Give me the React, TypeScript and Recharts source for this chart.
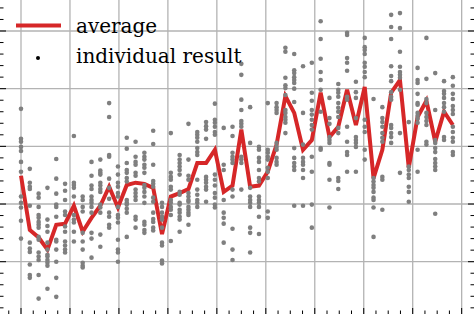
import React from 'react';
import { ComposedChart, Line, Scatter, XAxis, YAxis, CartesianGrid, Legend } from 'recharts';

// mean of the individual results per step
const averageValues = [
  14.9, 5.5, 4.2, 2.1, 6.4, 6.6, 9.7, 5.2, 7.6, 9.7,
  13.0, 9.4, 13.3, 13.7, 13.5, 12.8, 4.8, 11.3, 11.9, 12.6,
  17.1, 17.1, 19.4, 12.1, 13.2, 22.9, 13.0, 13.2, 15.6, 20.3,
  28.7, 25.8, 19.4, 21.1, 29.3, 21.6, 23.4, 29.8, 23.7, 30.3,
  14.5, 19.4, 29.3, 31.5, 16.3, 25.1, 27.9, 20.8, 26.0, 23.7,
];

// individual results, one list per step
const individualValues: number[][] = [
  [26.5, 21.3, 20.8, 19.9, 19.2, 17.3, 15.6, 11.3, 10.2, 9.4, 7.1, 4.0],
  [16.1, 13.7, 13.0, 12.6, 9.7, 3.3, 2.3, 1.7, -0.5, -2.3, -2.8],
  [11.8, 11.1, 9.5, 8.1, 7.6, 6.9, 6.4, 5.9, 4.3, 3.8, 1.6, 0.9, 0.3, -2.3, -6.4],
  [12.8, 7.3, 6.2, 5.2, 3.3, 2.1, 1.2, 0.9, 0.3, -0.2, -0.7, -4.7],
  [17.8, 14.4, 11.8, 9.9, 9.5, 7.8, 3.8, 3.5, 2.1, 0, -2.8, -6.1],
  [13.5, 12.3, 10.7, 8.7, 8.1, 6.1, 5.2, 3.5, 2.8, 2.1, 1.6],
  [21.8, 13.7, 13.3, 12.8, 11.3, 8.1, 7.3, 6.8, 5.2, 3.5],
  [11.3, 10.7, 9.5, 8.7, 5.0, 3.5, 2.1, -0.2, -0.7, -1.0],
  [17.3, 14.9, 13.2, 12.6, 11.3, 10.7, 10.2, 9.5, 8.5, 5.0, 4.0, 0.7],
  [17.7, 15.8, 15.4, 15.1, 13.7, 13.2, 12.6, 12.1, 9.9, 9.4, 8.5, 4.7, 2.6],
  [27.5, 25.1, 18.5, 18.2, 14.4, 12.8, 10.9, 8.5, 7.8, 6.4, 5.9],
  [16.5, 15.1, 13.7, 13.0, 11.9, 11.3, 9.5, 8.1, 7.6, 6.8, 3.8, 2.1, 1.6, 0],
  [21.5, 19.6, 17.1, 15.9, 15.4, 14.5, 13.9, 10.7, 10.2, 9.9, 9.2, 8.5, 4.3],
  [20.8, 18.2, 17.3, 16.8, 15.4, 14.9, 12.5, 11.9, 11.3, 10.7, 7.8, 7.3, 5.9],
  [18.9, 18.2, 17.7, 16.8, 16.3, 15.4, 13.3, 12.8, 12.1, 11.3, 10.2, 6.9, 6.4, 5.5, 5.0],
  [22.7, 20.4, 16.8, 14.0, 13.5, 13.0, 11.1, 10.4, 8.5, 7.4, 6.9, 5.9, 5.4],
  [10.2, 9.5, 8.5, 7.8, 7.3, 5.9, 3.3, 2.8, 0.2, -0.3],
  [22.3, 15.4, 14.7, 14.2, 13.0, 12.5, 10.7, 10.2, 9.5, 9.0, 8.1, 3.6],
  [18.5, 17.7, 17.1, 16.5, 15.9, 15.1, 12.1, 11.6, 10.2, 9.9, 9.0, 8.5, 7.8, 7.3, 5.2],
  [23.9, 17.7, 14.9, 14.2, 11.9, 11.3, 10.7, 10.4, 9.5, 9.0, 8.5, 8.1, 6.4],
  [22.5, 22.0, 21.5, 20.8, 19.7, 19.0, 18.5, 14.2, 12.5, 11.6, 10.7, 10.2, 9.5],
  [24.2, 23.5, 22.9, 21.3, 14.7, 14.2, 13.7, 13.0, 12.5, 10.4],
  [27.4, 24.6, 24.1, 23.4, 22.5, 22.0, 15.1, 14.2, 13.2, 11.9, 11.1, 9.9, 9.4],
  [23.2, 16.8, 15.9, 10.7, 8.5, 7.6, 6.6, 3.3],
  [23.4, 21.8, 18.9, 18.2, 17.7, 17.1, 12.5, 11.3, 5.7, 2.1, 0.3],
  [34.3, 32.4, 28.1, 26.3, 24.4, 23.9, 23.4, 18.2, 17.7, 17.1, 12.5],
  [26.8, 20.6, 12.8, 11.3, 10.7, 10.2, 9.5, 5.9, 5.0, 1.6],
  [19.9, 19.4, 18.0, 17.3, 15.9, 14.5, 13.9, 11.3, 10.7, 10.2, 9.5, 7.8, 4.8],
  [27.5, 19.4, 18.9, 18.2, 17.7, 16.3, 15.6, 14.5, 8.7, 7.6],
  [27.5, 26.8, 26.3, 25.8, 20.6, 19.9, 19.4, 18.0, 17.3, 16.8],
  [37.1, 36.4, 31.9, 30.6, 30.1, 28.9, 26.3, 25.8, 25.1, 24.6, 24.1, 22.3],
  [36.0, 33.2, 32.7, 32.0, 31.5, 31.0, 30.0, 27.7, 19.7, 18.0, 17.1, 16.5, 15.9, 9.7],
  [33.9, 25.8, 20.3, 18.0, 17.3, 16.8, 15.9, 14.5, 9.7],
  [34.5, 29.3, 27.9, 26.3, 25.5, 24.6, 23.7, 22.9, 18.2, 15.6, 9.9, 5.9],
  [41.7, 38.6, 35.2, 32.9, 31.5, 29.8, 26.0, 19.7, 19.4],
  [28.4, 24.9, 23.9, 21.6, 21.1, 20.6, 17.1, 16.8, 14.2, 9.4],
  [30.8, 29.8, 29.3, 28.6, 27.5, 26.7, 26.0, 25.1, 23.2, 22.3, 14.5, 14.0, 12.6],
  [39.7, 39.3, 35.3, 34.5, 33.1, 28.6, 28.1, 23.4, 20.8, 19.0, 18.5, 15.6],
  [31.2, 29.4, 28.4, 24.9, 21.6, 21.1, 20.6, 19.9, 15.6],
  [38.8, 37.2, 36.7, 36.0, 34.5, 33.8, 32.9, 32.0, 24.6, 23.4, 22.5, 19.4, 17.7],
  [28.2, 14.5, 13.9, 13.3, 12.8, 12.1, 11.1, 10.7, 9.4, 4.3],
  [26.8, 24.9, 24.2, 23.4, 22.3, 21.5, 20.8, 14.7, 14.2, 9.0],
  [42.8, 40.7, 38.6, 33.9, 32.2, 31.3, 29.4, 28.6, 28.1, 23.7, 23.2, 22.3, 21.6, 20.6],
  [43.1, 40.5, 36.4, 33.8, 32.9, 32.4, 31.9, 29.8, 22.3, 15.4],
  [24.2, 16.5, 15.9, 15.1, 14.5, 13.0, 12.1, 10.4],
  [33.6, 31.5, 31.0, 29.1, 27.5, 27.2, 25.8, 25.3, 24.8, 24.1, 19.4, 15.6],
  [38.8, 31.7, 28.2, 27.5, 25.8, 25.1, 24.4, 23.7, 20.8, 20.3],
  [32.7, 26.3, 21.1, 20.6, 19.7, 19.0, 17.8, 17.1, 16.5, 15.9, 8.3],
  [31.3, 29.6, 29.1, 28.4, 27.5, 26.8, 26.0, 21.6, 21.1],
  [32.0, 30.5, 29.1, 28.2, 27.0, 26.3, 25.6, 23.4, 22.5, 21.5, 20.8, 19.0, 18.5],
];

// major grid every 50/9 steps on x, every 10 on y; minor ticks in between
const xMajorTicks = [0, 50 / 9, 100 / 9, 150 / 9, 200 / 9, 250 / 9, 300 / 9, 350 / 9, 400 / 9, 50];
const xAllTicks = Array.from({ length: 38 }, (_, i) => ((i - 1) * 50) / 36);
const yMajorTicks = [0, 10, 20, 30, 40];
const yAllTicks = Array.from({ length: 27 }, (_, i) => -8 + i * 2);

const xDomain = [-2.383, 51.4];
const yDomain = [-9.07, 45.375];

const lineData = averageValues.map((y, x) => ({ x, y }));
const pointData = individualValues.flatMap((col, x) => col.map((y) => ({ x, y })));

const RED = '#d62728';
const FONT = '"DejaVu Serif", serif';

const isMajor = (v: number, majors: number[]) => majors.some((m) => Math.abs(m - v) < 1e-6);

// draws an inward tick mark from the axis line; long for major values
function makeTick(side: 'top' | 'bottom' | 'left' | 'right', majors: number[]) {
  return (props: any) => {
    const { x, y, payload } = props;
    const len = isMajor(payload.value, majors) ? 6 : 3.5;
    let x2 = x;
    let y2 = y;
    if (side === 'bottom') y2 = y - len;
    if (side === 'top') y2 = y + len;
    if (side === 'left') x2 = x + len;
    if (side === 'right') x2 = x - len;
    return <line x1={x} y1={y} x2={x2} y2={y2} stroke="#000" strokeWidth={1} />;
  };
}

function LegendBox() {
  return (
    <svg width={260} height={72}>
      <line x1={16} x2={61} y1={25.5} y2={25.5} stroke={RED} strokeWidth={4} />
      <text x={76} y={33} fontFamily={FONT} fontSize={20} fill="#000">average</text>
      <circle cx={38} cy={58} r={2} fill="#000" />
      <text x={76} y={63} fontFamily={FONT} fontSize={20} fill="#000">individual result</text>
    </svg>
  );
}

const Dot = (props: any) => <circle cx={props.cx} cy={props.cy} r={2.3} fill="#7f7f7f" />;

export default function App() {
  const common = {
    axisLine: false,
    tickLine: false,
    tickSize: 0,
    tickMargin: 0,
    allowDataOverflow: true,
    type: 'number' as const,
    mirror: true,
    interval: 0 as const,
  };
  return (
    <div style={{ position: 'absolute', left: 0, top: 0 }}>
      <ComposedChart width={474} height={314} margin={{ top: 0, right: 0, bottom: 0, left: 0 }}>
        <CartesianGrid
          stroke="#b3b3b3"
          strokeWidth={1.3}
          xAxisId="x"
          yAxisId="y"
          verticalValues={xMajorTicks}
          horizontalValues={yMajorTicks}
        />
        <XAxis xAxisId="x" dataKey="x" domain={xDomain} ticks={xAllTicks} orientation="bottom" height={1} tick={makeTick('bottom', xMajorTicks)} {...common} />
        <XAxis xAxisId="xt" domain={xDomain} ticks={xAllTicks} orientation="top" height={1} tick={makeTick('top', xMajorTicks)} {...common} />
        <YAxis yAxisId="y" dataKey="y" domain={yDomain} ticks={yAllTicks} orientation="left" width={1} tick={makeTick('left', yMajorTicks)} {...common} />
        <YAxis yAxisId="yr" domain={yDomain} ticks={yAllTicks} orientation="right" width={1} tick={makeTick('right', yMajorTicks)} {...common} />
        <Scatter xAxisId="x" yAxisId="y" data={pointData} dataKey="y" shape={Dot} isAnimationActive={false} legendType="none" />
        <Line xAxisId="x" yAxisId="y" data={lineData} dataKey="y" type="linear" stroke={RED} strokeWidth={4} dot={false} activeDot={false} isAnimationActive={false} />
        <Legend
          layout="horizontal"
          align="center"
          verticalAlign="middle"
          wrapperStyle={{ top: 0, left: 0, width: 260, height: 72 }}
          content={() => <LegendBox />}
        />
      </ComposedChart>
    </div>
  );
}
